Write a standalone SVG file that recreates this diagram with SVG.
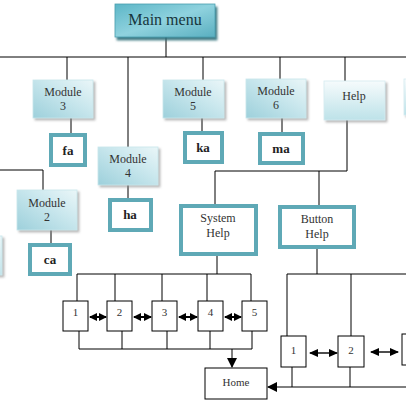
<svg xmlns="http://www.w3.org/2000/svg" width="406" height="406" viewBox="0 0 406 406">
<style>
  .mod{fill:url(#modGrad);stroke:#c9e6ec;stroke-width:0.8;filter:url(#sh)}
  .help{fill:url(#helpGrad);stroke:#d5ebef;stroke-width:0.8;filter:url(#sh)}
  .main{fill:url(#mainGrad);stroke:#4a9fae;stroke-width:0.8;filter:url(#sh2)}
  .thick{fill:#fff;stroke:#5fa9b6;stroke-width:4}
  .sq{fill:#fff;stroke:#000;stroke-width:1}
  .t{font-family:"Liberation Serif","Times New Roman",serif;font-size:12px;fill:#333;text-anchor:middle}
  .b{font-family:"Liberation Serif","Times New Roman",serif;font-size:13px;font-weight:bold;fill:#222;text-anchor:middle}
  .n{font-family:"Liberation Serif","Times New Roman",serif;font-size:11px;fill:#333;text-anchor:middle}
  .c{fill:none;stroke:#000;stroke-width:1}
  .ab{stroke:#000;stroke-width:2;marker-start:url(#hb);marker-end:url(#hb)}
  .at{stroke:#000;stroke-width:1.4;marker-start:url(#ht);marker-end:url(#ht)}
</style>
<defs>
  <linearGradient id="modGrad" x1="0" y1="1" x2="1" y2="0">
    <stop offset="0" stop-color="#9dd0db"/>
    <stop offset="0.6" stop-color="#cbe8ee"/>
    <stop offset="1" stop-color="#eaf6f8"/>
  </linearGradient>
  <linearGradient id="helpGrad" x1="0" y1="0" x2="0" y2="1">
    <stop offset="0" stop-color="#f6fbfc"/>
    <stop offset="1" stop-color="#bde2e9"/>
  </linearGradient>
  <linearGradient id="mainGrad" x1="0" y1="0" x2="1" y2="1">
    <stop offset="0" stop-color="#5db6c7"/>
    <stop offset="0.5" stop-color="#8fd2de"/>
    <stop offset="1" stop-color="#5aafc0"/>
  </linearGradient>
  <filter id="sh" x="-10%" y="-10%" width="130%" height="130%">
    <feDropShadow dx="2" dy="2" stdDeviation="1" flood-color="#888" flood-opacity="0.6"/>
  </filter>
  <filter id="sh2" x="-10%" y="-10%" width="130%" height="140%">
    <feDropShadow dx="2" dy="3" stdDeviation="0.8" flood-color="#2e6f7a" flood-opacity="0.9"/>
  </filter>
  <marker id="hb" viewBox="0 0 8 8" refX="7" refY="4" markerWidth="8" markerHeight="8" markerUnits="userSpaceOnUse" orient="auto-start-reverse">
    <path d="M0,0 L8,4 L0,8 z" fill="#000"/>
  </marker>
  <marker id="ht" viewBox="0 0 9 8" refX="8" refY="4" markerWidth="9" markerHeight="8" markerUnits="userSpaceOnUse" orient="auto-start-reverse">
    <path d="M0,0 L9,4 L0,8 z" fill="#000"/>
  </marker>
  <marker id="hd" viewBox="0 0 10 10" refX="9" refY="5" markerWidth="10" markerHeight="10" markerUnits="userSpaceOnUse" orient="auto">
    <path d="M0,0 L10,5 L0,10 z" fill="#000"/>
  </marker>
</defs>

<g id="connectors">
  <path class="c" d="M166 37 V57 M0 57 H406 M67 57 V80 M128 57 V147 M203 57 V80 M280 57 V79 M345 57 V81"/>
  <path class="c" d="M71 118 V133 M128 185 V198 M0 170 H43 V190 M51 230 V243 M202 118 V131 M282 118 V132"/>
  <path class="c" d="M347 120 V171 H215 V204 M319 171 V205"/>
  <path class="c" d="M217 256 V274 M77 274 H251 M77 274 V301 M115 274 V301 M162 274 V301 M207 274 V301 M251 274 V301"/>
  <path class="c" d="M79 331 V349 M122 331 V349 M167 331 V349 M210 331 V349 M252 331 V349 M79 349 H252"/>
  <path class="c" d="M232 349 V367" marker-end="url(#hd)"/>
  <path class="c" d="M317 249 V274 M287 274 H406 M287 274 V336 M351 274 V336 M292 367 V387 M350 367 V387"/>
  <path class="c" d="M406 387 H268" marker-end="url(#hd)"/>
  <line class="ab" x1="90" y1="317" x2="106" y2="317"/>
  <line class="ab" x1="134" y1="317" x2="151" y2="317"/>
  <line class="ab" x1="179" y1="317" x2="197" y2="317"/>
  <line class="ab" x1="225" y1="317" x2="241" y2="317"/>
  <line class="at" x1="310" y1="353" x2="337" y2="353"/>
  <line class="at" x1="371" y1="352" x2="398" y2="352"/>
</g>

<g id="main-menu"><rect class="main" x="115" y="4" width="100" height="33"/><text class="t" style="font-size:16px;fill:#17363c" x="165" y="25">Main menu</text></g>

<g id="module-3"><rect class="mod" x="33" y="80" width="60" height="38"/><text class="t" x="63" y="96">Module</text><text class="t" x="63" y="110">3</text></g>
<g id="module-4"><rect class="mod" x="98" y="147" width="60" height="38"/><text class="t" x="128" y="163">Module</text><text class="t" x="128" y="177">4</text></g>
<g id="module-2"><rect class="mod" x="17" y="190" width="60" height="40"/><text class="t" x="47" y="207">Module</text><text class="t" x="47" y="221">2</text></g>
<g id="module-5"><rect class="mod" x="163" y="80" width="61" height="38"/><text class="t" x="193" y="96">Module</text><text class="t" x="193" y="110">5</text></g>
<g id="module-6"><rect class="mod" x="246" y="79" width="60" height="39"/><text class="t" x="276" y="95">Module</text><text class="t" x="276" y="109">6</text></g>
<g id="help"><rect class="help" x="324" y="81" width="61" height="39"/><text class="t" x="354" y="100">Help</text></g>
<g id="module-left"><rect class="mod" x="-60" y="236" width="62" height="39"/></g>
<g id="module-right"><rect class="help" x="404" y="79" width="60" height="36"/></g>

<g id="fa"><rect class="thick" x="51" y="135" width="34" height="30"/><text class="b" x="68" y="155">fa</text></g>
<g id="ka"><rect class="thick" x="185" y="133" width="37" height="29"/><text class="b" x="203" y="152">ka</text></g>
<g id="ma"><rect class="thick" x="260" y="134" width="43" height="29"/><text class="b" x="281" y="153">ma</text></g>
<g id="ha"><rect class="thick" x="110" y="200" width="41" height="30"/><text class="b" x="130" y="219">ha</text></g>
<g id="ca"><rect class="thick" x="30" y="245" width="40" height="29"/><text class="b" x="50" y="264">ca</text></g>
<g id="system-help"><rect class="thick" x="181" y="206" width="75" height="48"/><text class="t" x="218" y="222">System</text><text class="t" x="218" y="237">Help</text></g>
<g id="button-help"><rect class="thick" x="280" y="207" width="74" height="40"/><text class="t" x="317" y="223">Button</text><text class="t" x="317" y="238">Help</text></g>

<g id="s1"><rect class="sq" x="63" y="301" width="25" height="30"/><text class="n" x="75.5" y="316">1</text></g>
<g id="s2"><rect class="sq" x="107" y="301" width="25" height="30"/><text class="n" x="119.5" y="316">2</text></g>
<g id="s3"><rect class="sq" x="152" y="301" width="25" height="30"/><text class="n" x="164.5" y="316">3</text></g>
<g id="s4"><rect class="sq" x="198" y="301" width="25" height="30"/><text class="n" x="210.5" y="316">4</text></g>
<g id="s5"><rect class="sq" x="242" y="301" width="25" height="30"/><text class="n" x="254.5" y="316">5</text></g>
<g id="home"><rect class="sq" x="205" y="368" width="62" height="31"/><text class="n" x="236" y="386">Home</text></g>
<g id="b1"><rect class="sq" x="281" y="336" width="25" height="31"/><text class="n" x="293.5" y="354">1</text></g>
<g id="b2"><rect class="sq" x="338" y="336" width="26" height="31"/><text class="n" x="351" y="354">2</text></g>
<g id="b3"><rect class="sq" x="402" y="334" width="26" height="31"/></g>
</svg>
